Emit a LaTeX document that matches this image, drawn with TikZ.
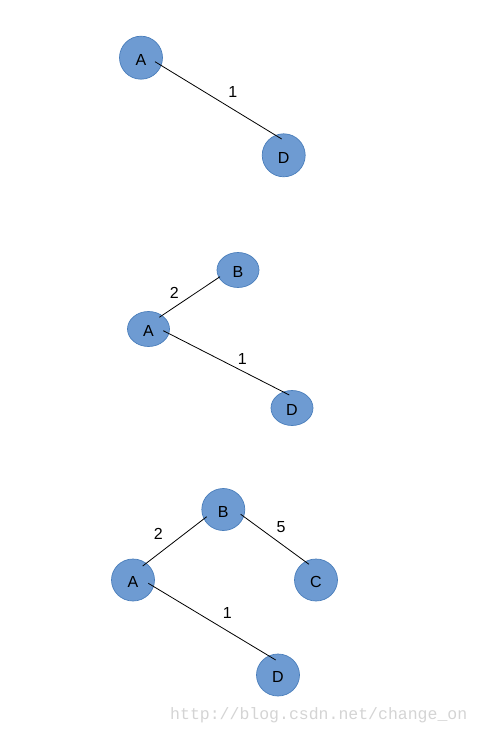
\documentclass[tikz,border=0pt]{standalone}
\usepackage{fontspec}
\setmainfont{Liberation Sans}
\newfontfamily\wmfont{Liberation Mono}
\usetikzlibrary{shapes.geometric,calc}
\definecolor{nodefill}{RGB}{110,155,210}
\definecolor{nodeline}{RGB}{74,126,187}
\definecolor{wmgray}{RGB}{212,212,212}
\tikzset{
  vtx/.style={ellipse,draw=nodeline,line width=0.7pt,fill=nodefill,inner sep=0pt,
    text height=15.5pt,text depth=0pt,font=\fontsize{16}{16}\selectfont},
  roundv/.style={vtx,minimum width=43pt,minimum height=43pt},
  flatv/.style={vtx,minimum width=42pt,minimum height=35pt},
  midv/.style={vtx,minimum width=43pt,minimum height=42pt},
  wlabel/.style={inner sep=0pt,font=\fontsize{16}{16}\selectfont},
  edgeline/.style={line width=0.8pt,black}
}
\begin{document}
\begin{tikzpicture}[x=1pt,y=-1pt]
\useasboundingbox (0,0) rectangle (480,735);
% group 1
\node[roundv] (A1) at (141,57.7) {A};
\node[roundv] (D1) at (283.7,155.3) {D};
\draw[edgeline] ($(A1)+(14,4)$) -- ($(D1)+(-2,-16.3)$);
\node[wlabel] (l11) at (232.7,92.3) {1};
% group 2
\node[flatv] (B2) at (238,270) {B};
\node[flatv] (A2) at (148.5,329) {A};
\node[flatv] (D2) at (292,408) {D};
\draw[edgeline] ($(A2)+(10.8,-11.7)$) -- ($(B2)+(-18,6.7)$);
\draw[edgeline] ($(A2)+(14.8,1.7)$) -- ($(D2)+(-2.7,-13)$);
\node[wlabel] (l22) at (174.3,292.7) {2};
\node[wlabel] (l21) at (242.3,359) {1};
% group 3
\node[midv] (B3) at (223.3,509.5) {B};
\node[midv] (A3) at (133,580) {A};
\node[midv] (C3) at (316,580) {C};
\node[midv] (D3) at (278,675) {D};
\draw[edgeline] ($(A3)+(9.7,-14)$) -- ($(B3)+(-16.6,7.2)$);
\draw[edgeline] ($(B3)+(17.4,4.8)$) -- ($(C3)+(-7,-15.7)$);
\draw[edgeline] ($(A3)+(15.3,3.3)$) -- ($(D3)+(-2.3,-15)$);
\node[wlabel] (l32) at (158.3,534.3) {2};
\node[wlabel] (l35) at (281,527.3) {5};
\node[wlabel] (l31) at (227.3,612.7) {1};
% watermark
\node[inner sep=0pt,anchor=west,text=wmgray,font=\wmfont\fontsize{16.5}{16.5}\selectfont] (wm) at (170,715) {http://blog.csdn.net/change\_on};
\end{tikzpicture}
\end{document}
